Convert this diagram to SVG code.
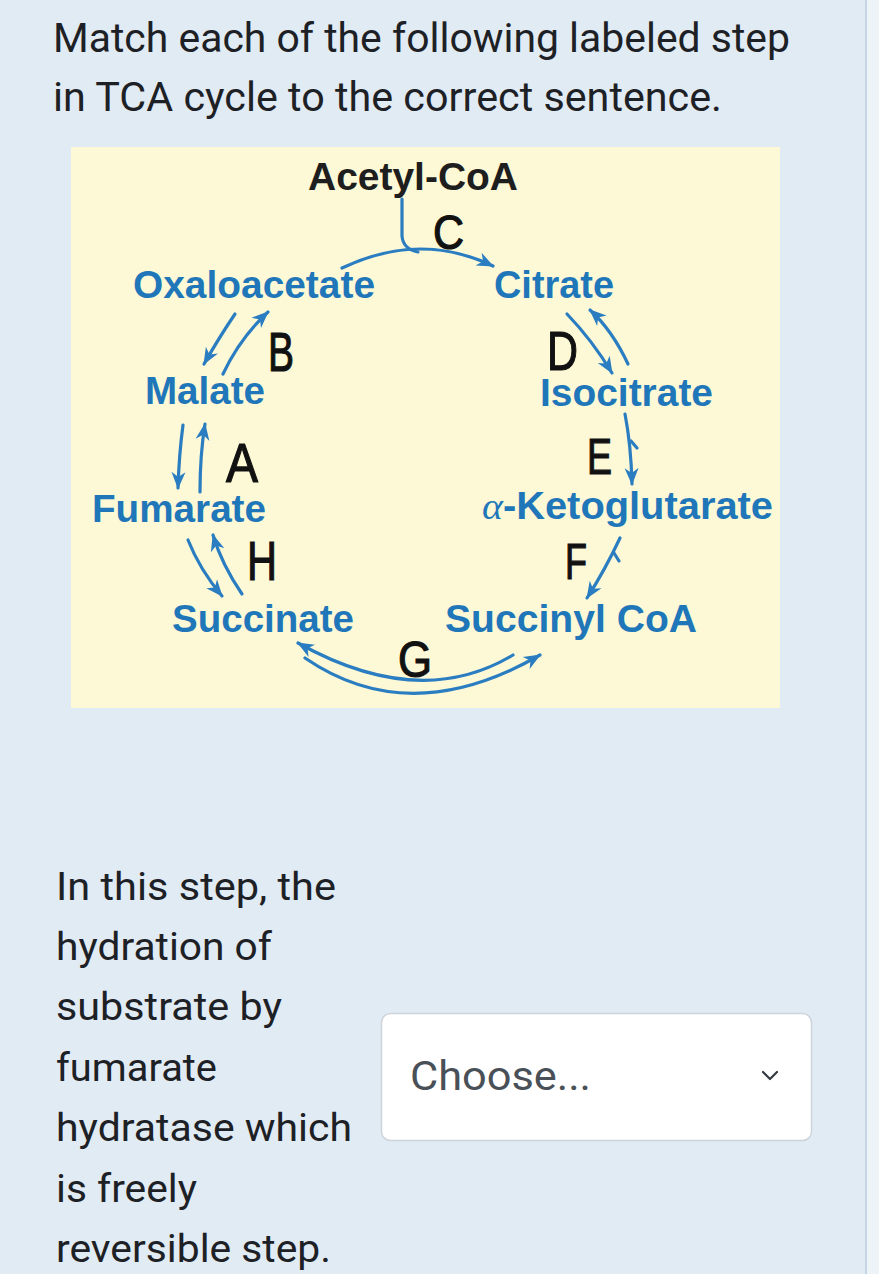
<svg xmlns="http://www.w3.org/2000/svg" width="879" height="1274" viewBox="0 0 879 1274">
<defs>
<style>
.q{font-family:Roboto,"Liberation Sans",sans-serif;fill:#1d2125}
.lbl{font-family:"Liberation Sans",Arial,sans-serif;font-weight:bold;font-size:38px;fill:#1f77b9}
.let{font-family:"Liberation Sans",Arial,sans-serif;fill:#111;stroke:#111;stroke-width:1.2}
.ar{fill:none;stroke:#2a7dc0;stroke-width:3.2;stroke-linecap:round}
</style>
<marker id="ah" markerUnits="userSpaceOnUse" markerWidth="20" markerHeight="16" refX="16" refY="8" orient="auto">
<path d="M0,1 L17,8 L0,15 L5,8 z" fill="#2a7dc0"/>
</marker>
</defs>
<rect x="0" y="0" width="879" height="1274" fill="#e1ebf4"/>
<rect x="865" y="0" width="14" height="1274" fill="#eef3f7"/>
<rect x="865" y="0" width="2" height="1274" fill="#c4d4e4"/>

<g id="title">
<text class="q" x="53" y="52" font-size="40" textLength="737" lengthAdjust="spacingAndGlyphs">Match each of the following labeled step</text>
<text class="q" x="53" y="111" font-size="40" textLength="669" lengthAdjust="spacingAndGlyphs">in TCA cycle to the correct sentence.</text>
</g>

<rect x="71" y="147" width="709" height="561" fill="#fdf9d7"/>

<g id="connectors">
<path class="ar" d="M402,199 L402,236 Q403,249 418,252"/>
<path class="ar" d="M342,268 Q420,231 493,266" marker-end="url(#ah)"/>
<path class="ar" d="M235,314 Q220,336 204,364" marker-end="url(#ah)"/>
<path class="ar" d="M223,374 Q240,338 268,312" marker-end="url(#ah)"/>
<path class="ar" d="M567,314 Q592,340 612,373" marker-end="url(#ah)"/>
<path class="ar" d="M628,364 Q612,330 590,310" marker-end="url(#ah)"/>
<path class="ar" d="M183,425 Q179,455 178,488" marker-end="url(#ah)"/>
<path class="ar" d="M200,492 Q200,455 205,424" marker-end="url(#ah)"/>
<path class="ar" d="M625,414 Q631,445 632,484" marker-end="url(#ah)"/>
<path class="ar" d="M631,441 L637,448"/>
<path class="ar" d="M188,540 Q200,570 222,596" marker-end="url(#ah)"/>
<path class="ar" d="M242,594 Q222,565 213,535" marker-end="url(#ah)"/>
<path class="ar" d="M620,538 Q605,570 587,598" marker-end="url(#ah)"/>
<path class="ar" d="M614,553 L619,561"/>
<path class="ar" d="M513,655 Q420,711 298,643" marker-end="url(#ah)"/>
<path class="ar" d="M305,658 Q410,730 540,655" marker-end="url(#ah)"/>
</g>

<g id="acetylcoa"><text class="lbl" x="308" y="190" style="fill:#1e1e1e" textLength="210" lengthAdjust="spacingAndGlyphs">Acetyl-CoA</text></g>
<g id="oxaloacetate"><text class="lbl" x="133" y="298" textLength="242" lengthAdjust="spacingAndGlyphs">Oxaloacetate</text></g>
<g id="citrate"><text class="lbl" x="494" y="298" textLength="120" lengthAdjust="spacingAndGlyphs">Citrate</text></g>
<g id="malate"><text class="lbl" x="145" y="404" textLength="120" lengthAdjust="spacingAndGlyphs">Malate</text></g>
<g id="isocitrate"><text class="lbl" x="540" y="406" textLength="173" lengthAdjust="spacingAndGlyphs">Isocitrate</text></g>
<g id="fumarate"><text class="lbl" x="92" y="522" textLength="174" lengthAdjust="spacingAndGlyphs">Fumarate</text></g>
<g id="ketoglutarate"><text class="lbl" x="482" y="519" textLength="291" lengthAdjust="spacingAndGlyphs"><tspan font-family="'Liberation Serif',serif" font-weight="normal" font-style="italic">α</tspan>-Ketoglutarate</text></g>
<g id="succinate"><text class="lbl" x="172" y="632" textLength="182" lengthAdjust="spacingAndGlyphs">Succinate</text></g>
<g id="succinylcoa"><text class="lbl" x="445" y="632" textLength="252" lengthAdjust="spacingAndGlyphs">Succinyl CoA</text></g>

<g id="step-letters">
<text class="let" font-size="48" x="433" y="249" textLength="31" lengthAdjust="spacingAndGlyphs">C</text>
<text class="let" font-size="55" x="268" y="371" textLength="26" lengthAdjust="spacingAndGlyphs">B</text>
<text class="let" font-size="55" x="547" y="370" textLength="31" lengthAdjust="spacingAndGlyphs">D</text>
<text class="let" font-size="55" x="226" y="482" textLength="32" lengthAdjust="spacingAndGlyphs">A</text>
<text class="let" font-size="50" x="587" y="474" textLength="25" lengthAdjust="spacingAndGlyphs">E</text>
<text class="let" font-size="55" x="247" y="580" textLength="30" lengthAdjust="spacingAndGlyphs">H</text>
<text class="let" font-size="50" x="565" y="579" textLength="22" lengthAdjust="spacingAndGlyphs">F</text>
<text class="let" font-size="50" x="398" y="677" textLength="34" lengthAdjust="spacingAndGlyphs">G</text>
</g>

<g id="sentence">
<text class="q" x="56" y="900" font-size="38" textLength="280" lengthAdjust="spacingAndGlyphs">In this step, the</text>
<text class="q" x="56" y="960" font-size="38" textLength="216" lengthAdjust="spacingAndGlyphs">hydration of</text>
<text class="q" x="56" y="1020" font-size="38" textLength="226" lengthAdjust="spacingAndGlyphs">substrate by</text>
<text class="q" x="56" y="1081" font-size="38" textLength="161" lengthAdjust="spacingAndGlyphs">fumarate</text>
<text class="q" x="56" y="1141" font-size="38" textLength="296" lengthAdjust="spacingAndGlyphs">hydratase which</text>
<text class="q" x="56" y="1202" font-size="38" textLength="141" lengthAdjust="spacingAndGlyphs">is freely</text>
<text class="q" x="56" y="1262" font-size="38" textLength="275" lengthAdjust="spacingAndGlyphs">reversible step.</text>
</g>

<g id="select">
<rect x="381.5" y="1013.5" width="430" height="127" rx="9" fill="#ffffff" stroke="#ced4da" stroke-width="1.5"/>
<text x="410" y="1090" font-family="Roboto,'Liberation Sans',sans-serif" font-size="40" fill="#495057" textLength="181" lengthAdjust="spacingAndGlyphs">Choose...</text>
<path d="M763,1072 L770,1079 L777,1072" fill="none" stroke="#343a40" stroke-width="2.2" stroke-linecap="round" stroke-linejoin="round"/>
</g>
</svg>
